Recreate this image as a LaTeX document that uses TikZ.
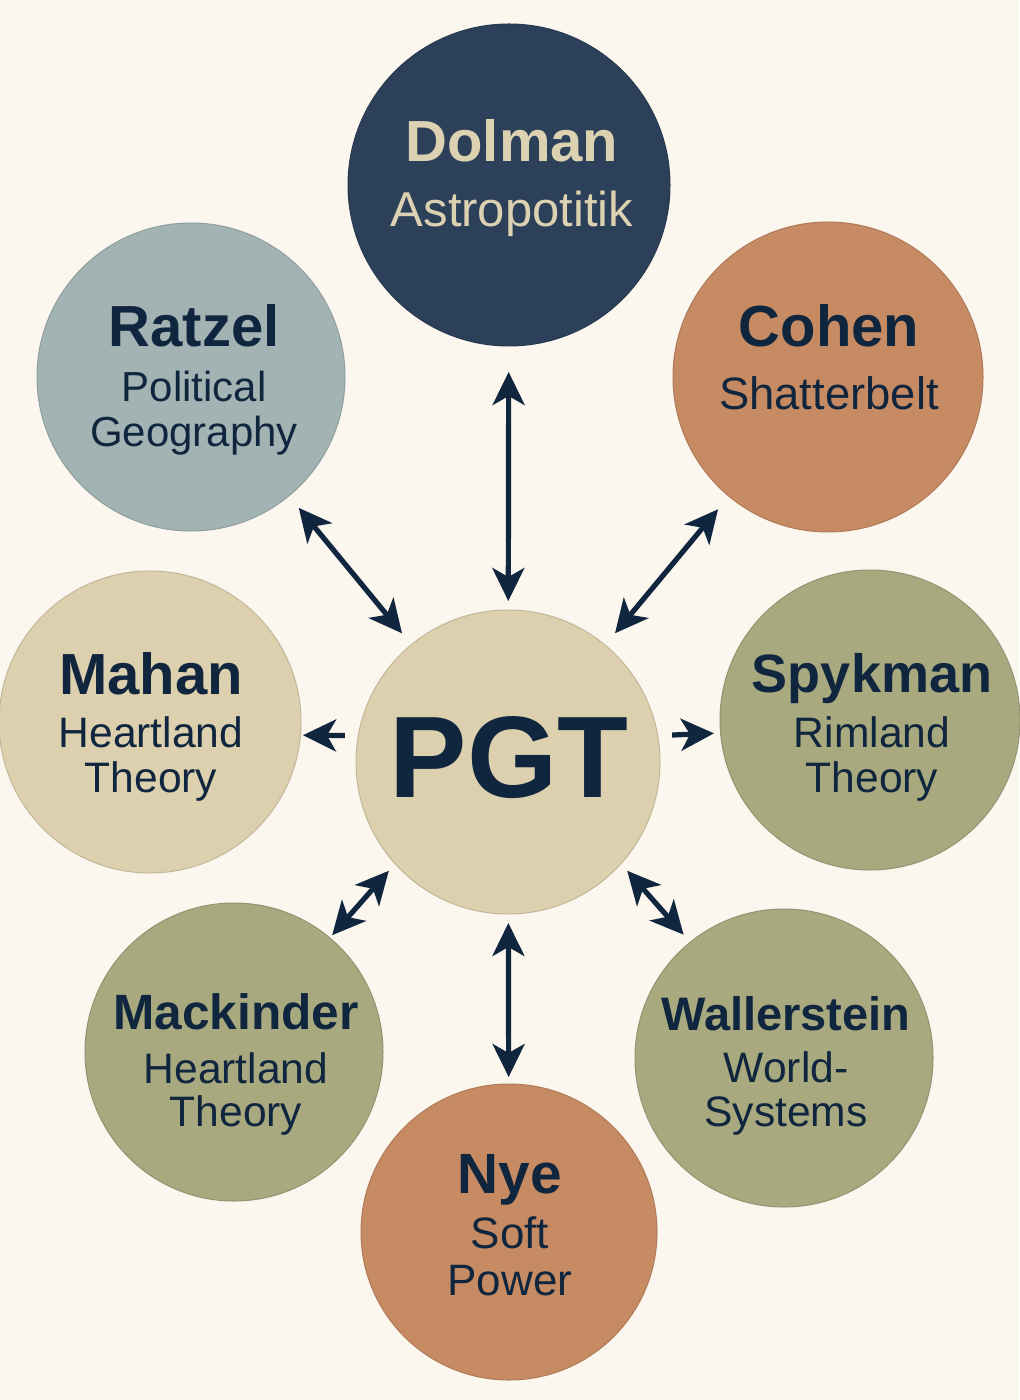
\documentclass[tikz,border=0pt]{standalone}
\usepackage{fontspec}
\setmainfont{Liberation Sans}
\usetikzlibrary{arrows.meta}
\definecolor{paper}{HTML}{FBF6EE}
\definecolor{navy}{HTML}{2C4159}
\definecolor{slate}{HTML}{A3B3B4}
\definecolor{clay}{HTML}{C78B63}
\definecolor{sand}{HTML}{DDD0AE}
\definecolor{olive}{HTML}{A8A97F}
\definecolor{ink}{HTML}{10263E}
\definecolor{cream}{HTML}{DCD2B2}
\begin{document}
\begin{tikzpicture}[x=0.5pt, y=-0.5pt,
  disc/.style={circle, inner sep=0, outer sep=0, fill=#1, draw=#1!88!black, line width=0.5pt},
  who/.style={anchor=base, inner sep=0, text=ink, font=\bfseries\fontsize{#1}{#1}\selectfont},
  idea/.style={anchor=base, inner sep=0, text=ink, font=\fontsize{#1}{#1}\selectfont},
  link/.style={draw=ink, line width=2.6pt},
  >={Stealth[length=16.5pt, width=16pt, inset=4.5pt]}]
\fill[paper] (0,0) rectangle (1019,1400);
\useasboundingbox (0,0) rectangle (1019,1400);
\node[disc=navy, minimum size=161pt] (dolman) at (509,185){};
\node[disc=slate, minimum size=154pt] (ratzel) at (191,377){};
\node[disc=clay, minimum size=155pt] (cohen) at (828,377){};
\node[disc=sand, minimum size=151pt] (mahan) at (150,722){};
\node[disc=sand, minimum size=152pt] (pgt) at (508,762){};
\node[disc=olive, minimum size=150pt] (spykman) at (870,720){};
\node[disc=olive, minimum size=149pt] (mackinder) at (234,1052){};
\node[disc=olive, minimum size=149pt] (wallerstein) at (784,1058){};
\node[disc=clay, minimum size=148pt] (nye) at (509,1232){};
\node[who=29, text=cream] (dolman1) at (512,162){Dolman};
\node[idea=24.5, text=cream] (dolman2) at (512,227){Astropotitik};
\node[who=29] (ratzel1) at (194,347){Ratzel};
\node[idea=21] (ratzel2) at (194,402){Political};
\node[idea=21] (ratzel3) at (194,447){Geography};
\node[who=29] (cohen1) at (829,347){Cohen};
\node[idea=22.7] (cohen2) at (829,410){Shatterbelt};
\node[who=29] (mahan1) at (151,694){Mahan};
\node[idea=21.3] (mahan2) at (151,747){Heartland};
\node[idea=21.3] (mahan3) at (151,792){Theory};
\node[who=58] (pgt1) at (509,797){PGT};
\node[who=27] (spykman1) at (872,692){Spykman};
\node[idea=21.3] (spykman2) at (872,747){Rimland};
\node[idea=21.3] (spykman3) at (872,792){Theory};
\node[who=24.8] (mackinder1) at (236,1029){Mackinder};
\node[idea=21.3] (mackinder2) at (236,1083){Heartland};
\node[idea=21.3] (mackinder3) at (236,1126){Theory};
\node[who=23.5] (wallerstein1) at (786,1030){Wallerstein};
\node[idea=21.3] (wallerstein2) at (786,1082){World-};
\node[idea=21.3] (wallerstein3) at (786,1126){Systems};
\node[who=28.4] (nye1) at (510,1193){Nye};
\node[idea=22] (nye2) at (510,1248){Soft};
\node[idea=22] (nye3) at (510,1295){Power};
\draw[link, <->, shorten <=93.5pt, shorten >=80.5pt] (dolman.center) -- (pgt.center);
\draw[link, <->, shorten <=84.75pt, shorten >=83.35pt] (ratzel.center) -- (pgt.center);
\draw[link, <->, shorten <=86pt, shorten >=83.7pt] (cohen.center) -- (pgt.center);
\draw[link, ->, shorten <=6.7pt, shorten >=1.3pt] (pgt.170) -- (mahan.355);
\draw[link, ->, shorten <=7.2pt, shorten >=3.3pt] (pgt.10) -- (spykman.185);
\draw[link, <->, shorten <=4.7pt, shorten >=1.8pt] (pgt.222) -- (mackinder.50);
\draw[link, <->, shorten <=4.7pt, shorten >=5pt] (pgt.318) -- (wallerstein.129);
\draw[link, <->, shorten <=80.5pt, shorten >=77.5pt] (pgt.center) -- (nye.center);
\end{tikzpicture}
\end{document}
